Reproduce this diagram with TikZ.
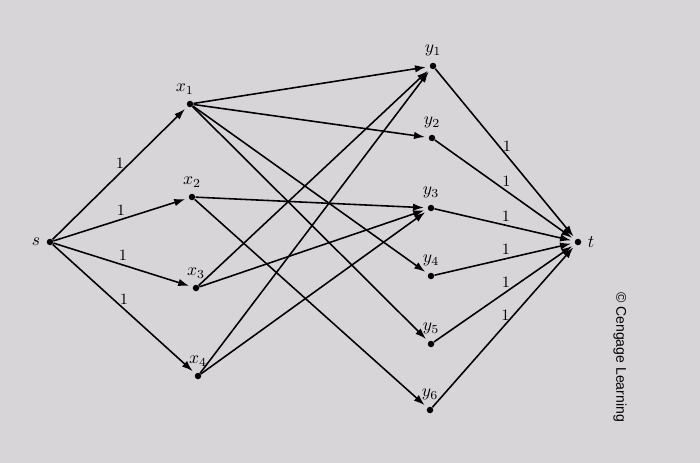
\documentclass[tikz,border=0pt]{standalone}
\usepackage{fontspec}
\usepackage{tikz}
\usetikzlibrary{arrows.meta}
\newfontfamily\creditfont{Liberation Sans}
\tikzstyle{vertex} = [circle, fill=black, inner sep=0pt, minimum size=1.3mm]
\tikzstyle{line} = [draw, line width=0.9pt, -{Latex[length=2.2mm, width=1.5mm]}, shorten >=2pt]
\tikzstyle{weight} = [above, font=\small, inner sep=2pt]
\definecolor{paper}{RGB}{216,213,216}

\begin{document}
\begin{tikzpicture}[x=0.02cm, y=-0.02cm]
    \fill[paper] (0,0) rectangle (700,463);
    \useasboundingbox (0,0) rectangle (700,463);

    \node (s) [vertex, label=left:$s$] at (50,242) {};
    \node (x1) [vertex, label={[xshift=-3pt]above:$x_1$}] at (190,104) {};
    \node (x2) [vertex, label=above:$x_2$] at (192,197) {};
    \node (x3) [vertex, label=above:$x_3$] at (196,288) {};
    \node (x4) [vertex, label=above:$x_4$] at (198,376) {};
    \node (y1) [vertex, label=above:$y_1$] at (433,66) {};
    \node (y2) [vertex, label=above:$y_2$] at (432,138) {};
    \node (y3) [vertex, label=above:$y_3$] at (431,208) {};
    \node (y4) [vertex, label=above:$y_4$] at (431,276) {};
    \node (y5) [vertex, label=above:$y_5$] at (431,344) {};
    \node (y6) [vertex, label=above:$y_6$] at (430,410) {};
    \node (t) [vertex, label=right:$t$] at (578,242) {};
    \node (credit) [rotate=-90, font=\creditfont\footnotesize] at (620,357) {\textcopyright\ Cengage Learning};

    \path [line] (s) -- node[weight] {1} (x1);
    \path [line] (s) -- node[weight] {1} (x2);
    \path [line] (s) -- node[weight] {1} (x3);
    \path [line] (s) -- node[weight] {1} (x4);

    \path [line] (x1) -- (y1);
    \path [line] (x1) -- (y2);
    \path [line] (x1) -- (y4);
    \path [line] (x1) -- (y5);
    \path [line] (x2) -- (y3);
    \path [line] (x2) -- (y6);
    \path [line] (x3) -- (y1);
    \path [line] (x3) -- (y3);
    \path [line] (x4) -- (y1);
    \path [line] (x4) -- (y3);

    \path [line] (y1) -- node[weight, pos=0.51] {1} (t);
    \path [line] (y2) -- node[weight, pos=0.51] {1} (t);
    \path [line] (y3) -- node[weight, pos=0.51] {1} (t);
    \path [line] (y4) -- node[weight, pos=0.51] {1} (t);
    \path [line] (y5) -- node[weight, pos=0.51] {1} (t);
    \path [line] (y6) -- node[weight, pos=0.51] {1} (t);

\end{tikzpicture}
\end{document}
